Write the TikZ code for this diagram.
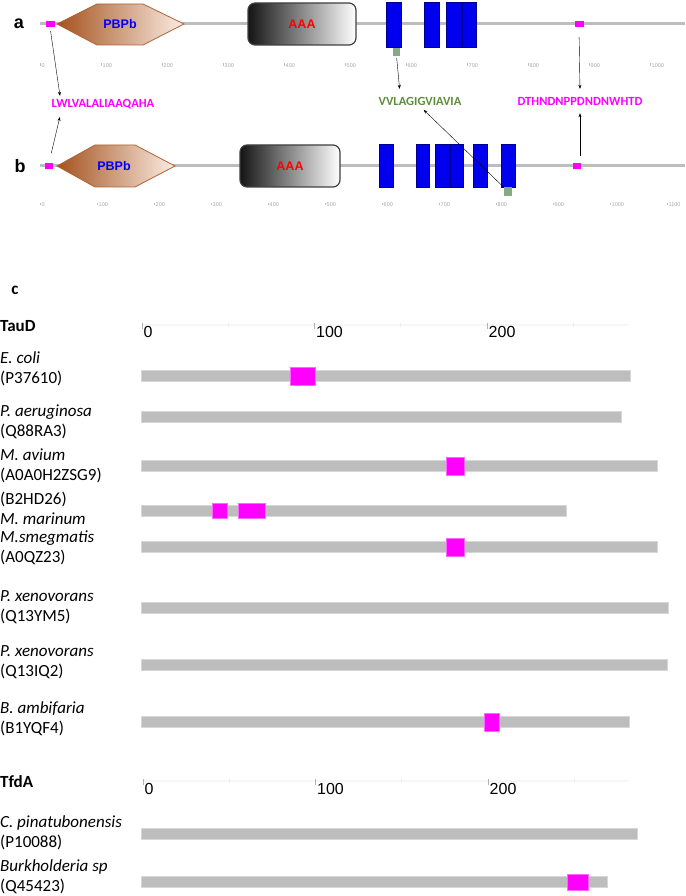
\documentclass[tikz,border=0pt]{standalone}
\usepackage{fontspec}
\setmainfont{Carlito}
\newfontfamily\arialfont{Liberation Sans}
\usepackage{tikz}
\usetikzlibrary{positioning,arrows.meta}

\definecolor{bbgray}{HTML}{BDBDBD}
\definecolor{sigpink}{HTML}{FF00FF}
\definecolor{tmblue}{HTML}{0000EE}
\definecolor{motgreen}{HTML}{86AA86}
\definecolor{seqgreen}{HTML}{5E8E3A}
\definecolor{pbpdark}{HTML}{A4521E}
\definecolor{pbplight}{HTML}{FBEDE4}

\tikzset{
  backbone/.style={draw=bbgray, line width=3pt},
  sigbox/.style={fill=sigpink, inner sep=0pt, minimum width=9pt, minimum height=6pt},
  tmbox/.style={fill=tmblue, draw=tmblue!60!black, line width=0.3pt, inner sep=0pt},
  motbox/.style={fill=motgreen, inner sep=0pt, minimum width=7pt, minimum height=8pt},
  seqlbl/.style={font=\bfseries\fontsize{12.5}{14}\selectfont, inner sep=0pt, minimum height=16pt},
  domlbl/.style={font=\arialfont\bfseries\fontsize{12.5}{14}\selectfont},
  ticklbl/.style={font=\arialfont\fontsize{5.5}{6}\selectfont, text=gray!70, anchor=west, inner sep=0pt},
  pointer/.style={-{Stealth[length=4pt,width=3pt]}, line width=0.4pt},
  panel/.style={font=\arialfont\bfseries\fontsize{18}{20}\selectfont},
  bar/.style={fill=bbgray, draw=bbgray!60, line width=0.3pt},
  hit/.style={fill=sigpink, draw=sigpink!60, line width=0.3pt},
  species/.style={anchor=west, align=left, inner sep=0pt, font=\fontsize{17}{20}\selectfont},
  protlbl/.style={anchor=west, inner sep=0pt, font=\bfseries\fontsize{17}{20}\selectfont},
  scalelbl/.style={font=\arialfont\fontsize{16}{18}\selectfont, anchor=west, inner sep=0pt},
  scaletick/.style={draw=gray!60, line width=0.6pt},
  scaleaxis/.style={draw=gray!7, line width=1.2pt},
}

\begin{document}
\begin{tikzpicture}[x=1pt,y=-1pt]
  \useasboundingbox (0,0) rectangle (685,896);

  % panel a
  \node[panel] (pa) at (19,24) {a};
  \draw[backbone] (40,24) -- (685,24);
  \shade[left color=pbpdark, right color=pbplight, draw=pbpdark!90, line width=0.8pt]
    (57,24) -- (97,4) -- (143,4) -- (184,24) -- (143,45) -- (97,45) -- cycle;
  \node[domlbl, text=blue] (pbpa) at (120,24) {PBPb};
  \shade[left color=black!92, right color=white, draw=black!75, line width=1.2pt, rounded corners=7pt]
    (248,3) rectangle (356,45);
  \node[domlbl, text=red] (aaaa) at (302,24) {AAA};
  \node[sigbox] (sigA1) at (50,24) {};
  \node[sigbox] (sigA2) at (579,24) {};
  \node[tmbox, minimum width=15pt, minimum height=45pt] (tmA1) at (393.5,24.5) {};
  \node[tmbox, minimum width=15pt, minimum height=45pt] (tmA2) at (431.5,24.5) {};
  \node[tmbox, minimum width=15pt, minimum height=45pt] (tmA3) at (453.5,24.5) {};
  \node[tmbox, minimum width=14pt, minimum height=45pt] (tmA4) at (469,24.5) {};
  \node[motbox] (motA) at (396.5,52) {};
  \foreach \v in {0,100,...,1000} {
    \draw[gray!50, line width=0.3pt] (40.5+0.61*\v,63.5) -- ++(0,2.5);
    \node[ticklbl] (ta\v) at (41.5+0.61*\v,66) {\v};
  }

  % sequence labels
  \node[seqlbl, text=sigpink] (lwl) at (103,104) {LWLVALALIAAQAHA};
  \node[seqlbl, text=seqgreen] (vvl) at (420,101) {VVLAGIGVIAVIA};
  \node[seqlbl, text=sigpink] (dth) at (580,101) {DTHNDNPPDNDNWHTD};

  % panel b
  \node[panel] (pb) at (20,166) {b};
  \draw[backbone] (40,166) -- (685,166);
  \shade[left color=pbpdark, right color=pbplight, draw=pbpdark!90, line width=0.8pt]
    (57,166) -- (95,145) -- (135,145) -- (175,166) -- (135,187) -- (95,187) -- cycle;
  \node[domlbl, text=blue] (pbpb) at (114,166) {PBPb};
  \shade[left color=black!92, right color=white, draw=black!75, line width=1.2pt, rounded corners=7pt]
    (240,145) rectangle (340,187);
  \node[domlbl, text=red] (aaab) at (290,166) {AAA};
  \node[sigbox, minimum width=8pt] (sigB1) at (49,166) {};
  \node[sigbox, minimum width=8pt] (sigB2) at (577,166) {};
  \foreach \c/\w [count=\i] in {386/14,422.5/13,442/14,456.5/13,480/14,508/14}
    \node[tmbox, minimum width=\w pt, minimum height=43pt] (tmB\i) at (\c,165.5) {};
  \node[motbox, minimum width=8pt] (motB) at (508,191.5) {};
  \foreach \v in {0,100,...,1100} {
    \draw[gray!50, line width=0.3pt] (40.5+0.57*\v,202.5) -- ++(0,2.5);
    \node[ticklbl] (tb\v) at (41.5+0.57*\v,205) {\v};
  }

  % pointers
  \draw[pointer, shorten <=4pt] (sigA1.south) -- ([xshift=-43pt]lwl.north);
  \draw[pointer, shorten <=10pt, shorten >=5pt] (sigB1.north) -- ([xshift=-42pt]lwl.south);
  \draw[pointer, shorten <=2pt, shorten >=4pt] (motA.south) -- ([xshift=-20pt]vvl.north);
  \draw[pointer, shorten >=1pt] (motB.north west) -- ([xshift=3pt]vvl.south);
  \draw[pointer, shorten <=10pt, shorten >=4pt] (sigA2.south) -- (dth.north);
  \draw[pointer, shorten <=7pt, shorten >=4pt] (sigB2.north -| dth.south) -- (dth.south);

  % panel c
  \node[font=\bfseries\fontsize{17}{20}\selectfont] (pc) at (15,290) {c};
  \node[protlbl] (taud) at (0,326) {TauD};
  \node[protlbl] (tfda) at (0,782) {TfdA};

  \draw[scaleaxis] (142,325) -- (628,325);
  \draw[scaleaxis] (143,781) -- (628,781);
  \foreach \v in {50,150,250} {
    \draw[gray!15, line width=0.6pt] (142+1.725*\v,323) -- ++(0,4);
    \draw[gray!15, line width=0.6pt] (143+1.725*\v,779) -- ++(0,4);
  }
  \foreach \v in {0,100,200} {
    \draw[scaletick] (142+1.725*\v,323) -- ++(0,6);
    \node[scalelbl] (sa\v) at (143.5+1.725*\v,332) {\v};
    \draw[scaletick] (143+1.725*\v,779) -- ++(0,6);
    \node[scalelbl] (sb\v) at (144.5+1.725*\v,789) {\v};
  }

  \node[species] (ecoli) at (0,369) {\textit{E. coli}\\(P37610)};
  \node[species] (paer) at (0,422) {\textit{P. aeruginosa}\\(Q88RA3)};
  \node[species] (mav) at (0,466) {\textit{M. avium}\\(A0A0H2ZSG9)};
  \node[species] (mmar) at (0,508) {(B2HD26)\\\textit{M. marinum}};
  \node[species] (msm) at (0,548) {\textit{M.smegmatis}\\(A0QZ23)};
  \node[species] (pxa) at (0,607) {\textit{P. xenovorans}\\(Q13YM5)};
  \node[species] (pxb) at (0,662) {\textit{P. xenovorans}\\(Q13IQ2)};
  \node[species] (bamb) at (0,719) {\textit{B. ambifaria}\\(B1YQF4)};
  \node[species] (cpin) at (0,833) {\textit{C. pinatubonensis}\\(P10088)};
  \node[species] (burk) at (0,877) {\textit{Burkholderia sp}\\(Q45423)};

  \foreach \y/\e in {376/630,417/621,466/657,511/566,547/657,608/668,665/667,722/629,834/637,882/607}
    \fill[bar] (141,\y-5.5) rectangle (\e,\y+5.5);
  \foreach \xa/\xb/\y/\h in {290/315/376/9,446/464/466/9,212/227/511/7.5,238/265/511/7.5,446/464/547/9,484/499/722/9,567/588/882/8}
    \fill[hit] (\xa,\y-\h) rectangle (\xb,\y+\h);
\end{tikzpicture}
\end{document}
